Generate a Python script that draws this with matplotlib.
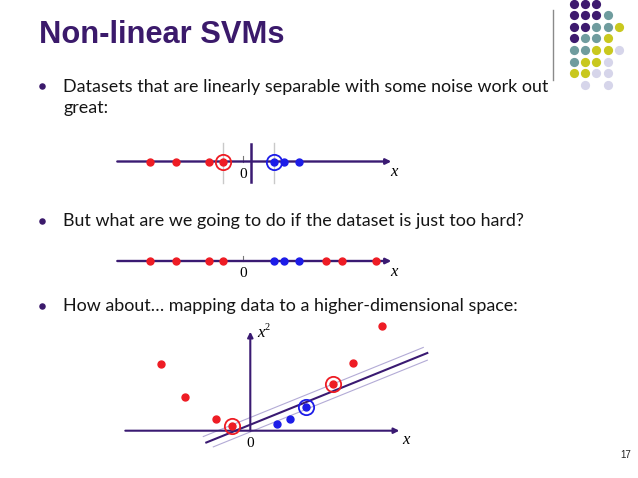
import numpy as np
import matplotlib
matplotlib.use("Agg")
import matplotlib.pyplot as plt

W, H = 638, 478

# ---- slide text ----
title = "Non-linear SVMs"
bullets = [
    "Datasets that are linearly separable with some noise work out",
    "great:",
    "But what are we going to do if the dataset is just too hard?",
    "How about\u2026 mapping data to a higher-dimensional space:",
]
page_no = "17"

# ---- 1D example, separable ----
red_1 = [-9.3, -6.7, -3.4, -2.0]
blue_1 = [3.1, 4.1, 5.6]
sv_1 = [-2.0, 3.1]          # support vectors (red, blue)
boundary_1 = 0.8

# ---- 1D example, not separable ----
red_2 = [-9.3, -6.7, -3.4, -2.0, 8.3, 9.9, 13.3]
blue_2 = [3.1, 4.1, 5.6]

# ---- mapped to (x, x^2) ----
red_3x = [-8.9, -6.5, -3.4, -1.8, 8.3, 10.3, 13.2]
red_3y = [6.7, 3.4, 1.2, 0.5, 4.7, 6.8, 10.5]
blue_3x = [2.7, 4.0, 5.6]
blue_3y = [0.7, 1.2, 2.4]
sv_red_3 = [3, 4]
sv_blue_3 = [2]
slope_3, icpt_3, margin_3 = 0.405, 0.6, 0.72

# ---- corner decoration (P purple, T teal, Y yellow, L lavender) ----
deco_rows = ["PPP", "PPPT", "PPTTY", "PTTY", "TTYYL", "TYYL", "YYLL", " L L"]
deco_colors = {"P": "#3d1a6e", "T": "#6f9c9e", "Y": "#c9c81e", "L": "#d6d5ea"}

RED, BLUE = "#ee1c24", "#1c1ce8"
AXC = "#3a1a72"
PURPLE = "#3b1a6b"

fig = plt.figure(figsize=(W / 100, H / 100), dpi=100)
bg = fig.add_axes([0, 0, 1, 1])
bg.set_xlim(0, W)
bg.set_ylim(H, 0)
bg.axis("off")

bg.text(39, 42.7, title, fontsize=22.2, fontweight="bold", color=PURPLE,
        family="Liberation Sans", va="baseline")

for txt, yb in zip(bullets, [92, 113, 226, 311]):
    bg.text(63, yb, txt, fontsize=12.9, family="Lato", color="#151515",
            va="baseline")
bg.scatter([42, 42, 42], [86, 220.5, 305.5], s=22, color=PURPLE, lw=0)
bg.text(626, 455, page_no, fontsize=7, family="Liberation Sans",
        ha="center", va="center", color="#222222")

# corner dots
col_x = [574.3, 585.3, 596.3, 607.5, 618.8]
row_y = [3.5, 15, 26.5, 38, 50, 61.5, 73, 85]
for r, row in enumerate(deco_rows):
    for c, ch in enumerate(row):
        if ch != " ":
            bg.scatter(col_x[c], row_y[r], s=44, color=deco_colors[ch], lw=0)
bg.plot([552.5, 552.5], [10, 80], color="#8a8a8a", lw=1)


def sub_axes(left, top, w, h):
    return fig.add_axes([left / W, 1 - (top + h) / H, w / W, h / H])


def arrow(ax, x0, y0, x1, y1, lw=1.6):
    ax.annotate("", xy=(x1, y1), xytext=(x0, y0),
                arrowprops=dict(arrowstyle="-|>", color=AXC, lw=lw,
                                mutation_scale=8, shrinkA=0, shrinkB=0))


def number_line(ax, xmin, xmax):
    ax.set_xlim(xmin, xmax)
    ax.set_ylim(-3, 3)
    ax.axis("off")
    arrow(ax, -12.6, 0, 14.8, 0, lw=1.7)
    ax.plot([0, 0], [0, 0.55], color="#777777", lw=0.8)
    ax.text(0, -1.25, "0", fontsize=11, family="Liberation Serif",
            ha="center", va="center")
    ax.text(15.1, -1.05, "x", fontsize=12, family="Liberation Serif",
            style="italic", ha="center", va="center")


# chart 1
ax1 = sub_axes(100, 131.5, 320, 60)
number_line(ax1, -14.33, 17.67)
for s in sv_1:
    ax1.plot([s, s], [-2.15, 1.85], color="#c9c9c9", lw=1, zorder=1)
ax1.plot([boundary_1, boundary_1], [-2.05, 1.75], color=AXC, lw=1.8, zorder=2)
ax1.plot(red_1, np.zeros(len(red_1)), "o", color=RED, ms=5, zorder=4)
ax1.plot(blue_1, np.zeros(len(blue_1)), "o", color=BLUE, ms=5, zorder=4)
ax1.plot(sv_1[0], 0, "o", mfc="none", mec=RED, ms=11, mew=1.3, zorder=5)
ax1.plot(sv_1[1], 0, "o", mfc="none", mec=BLUE, ms=11, mew=1.3, zorder=5)

# chart 2
ax2 = sub_axes(100, 231, 320, 60)
number_line(ax2, -14.33, 17.67)
ax2.plot(red_2, np.zeros(len(red_2)), "o", color=RED, ms=5, zorder=4)
ax2.plot(blue_2, np.zeros(len(blue_2)), "o", color=BLUE, ms=5, zorder=4)

# chart 3
ax3 = sub_axes(110, 310, 330, 150)
ax3.set_xlim(-14.03, 18.97)
ax3.set_ylim(-2.93, 12.07)
ax3.axis("off")
arrow(ax3, -12.5, 0, 14.9, 0, lw=1.5)
arrow(ax3, 0, 0, 0, 9.9, lw=1.5)
xs = np.array([-4.4, 17.7])
ax3.plot(xs, slope_3 * xs + icpt_3, color=AXC, lw=1.5, zorder=3)
xs = np.array([-4.7, 17.3])
ax3.plot(xs, slope_3 * xs + icpt_3 + margin_3, color="#b3abd6", lw=0.8, zorder=2)
xs = np.array([-3.7, 17.7])
ax3.plot(xs, slope_3 * xs + icpt_3 - margin_3, color="#b3abd6", lw=0.8, zorder=2)
ax3.plot(red_3x, red_3y, "o", color=RED, ms=5, zorder=4)
ax3.plot(blue_3x, blue_3y, "o", color=BLUE, ms=5, zorder=4)
ax3.plot([red_3x[i] for i in sv_red_3], [red_3y[i] for i in sv_red_3], "o",
         mfc="none", mec=RED, ms=11, mew=1.3, zorder=5)
ax3.plot([blue_3x[i] for i in sv_blue_3], [blue_3y[i] for i in sv_blue_3], "o",
         mfc="none", mec=BLUE, ms=11, mew=1.3, zorder=5)
ax3.text(0.0, -1.26, "0", fontsize=11, family="Liberation Serif",
         ha="center", va="center")
ax3.text(15.6, -0.9, "x", fontsize=12, family="Liberation Serif",
         style="italic", ha="center", va="center")
ax3.text(0.7, 9.8, "x", fontsize=12, family="Liberation Serif",
         style="italic", ha="left", va="center")
ax3.text(1.45, 10.3, "2", fontsize=7.5, family="Liberation Serif",
         ha="left", va="center")

fig.savefig("out.png", dpi=100)
